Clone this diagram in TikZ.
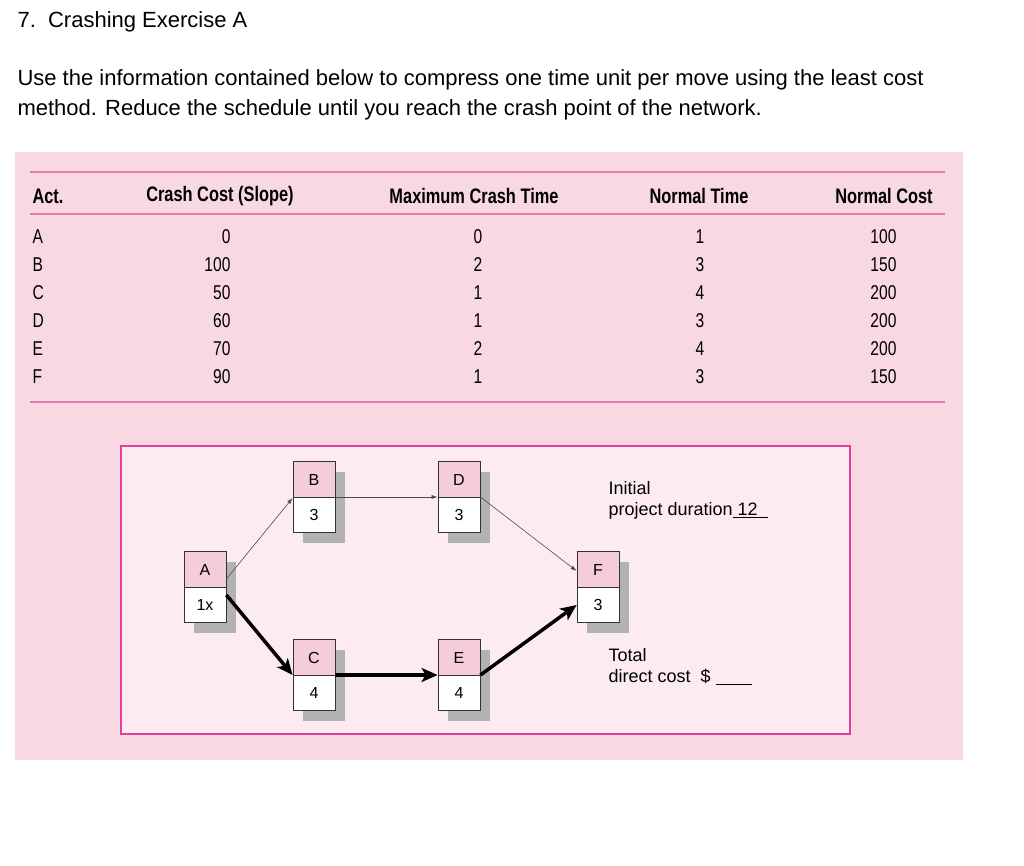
\documentclass[tikz,border=0pt]{standalone}
\usepackage{fontspec}
\setmainfont{Liberation Sans}
\newfontfamily\condfont[FakeStretch=0.78, BoldFont={Liberation Sans Bold}, BoldFeatures={FakeStretch=0.78}]{Liberation Sans}
\usetikzlibrary{shapes.multipart,calc,arrows.meta}
\definecolor{panel}{HTML}{F8D9E1}
\definecolor{inner}{HTML}{FCECF0}
\definecolor{rule}{HTML}{E47BAE}
\definecolor{frame}{HTML}{E0409A}
\definecolor{toppink}{HTML}{F5CCD9}
\tikzset{
  actbox/.style={rectangle split, rectangle split parts=2, draw=black!80, line width=0.8pt,
    rectangle split part fill={toppink,white}, minimum width=42pt, inner xsep=0pt,
    inner ysep=11.5pt, text height=12pt, text depth=0pt, font=\fontsize{16}{16}\selectfont},
  shadowbox/.style={fill=black!30},
  thin/.style={draw=black!70, line width=0.6pt, -{Latex[length=6pt,width=4pt]}},
  thick/.style={draw=black, line width=3.5pt, -{Stealth[length=16pt,width=14pt,inset=4pt]}},
  hd/.style={font=\condfont\bfseries\fontsize{21}{21}\selectfont},
  cell/.style={font=\condfont\fontsize{20}{20}\selectfont},
  txt/.style={font=\fontsize{22}{26}\selectfont, anchor=west},
  lab/.style={font=\fontsize{18}{21}\selectfont, anchor=west}
}
\begin{document}
\begin{tikzpicture}[x=1pt,y=-1pt]
\useasboundingbox (0,0) rectangle (1024,866);
\fill[white] (0,0) rectangle (1024,866);
\node[txt] (title) at (14,22) {7.\ \ Crashing Exercise A};
\node[txt] (p1) at (14,80) {Use the information contained below to compress one time unit per move using the least cost};
\node[txt] (p2) at (14,110) {method. Reduce the schedule until you reach the crash point of the network.};
\fill[panel] (15,152) rectangle (963,760);
\draw[rule, line width=1.2pt] (30,172) -- (945,172) (30,214) -- (945,214) (30,402) -- (945,402);
\node[hd, anchor=west] (h1) at (29,196) {Act.};
\node[hd] (h2) at (220,196) {Crash Cost (Slope)};
\node[hd] (h3) at (474,196) {Maximum Crash Time};
\node[hd] (h4) at (699,196) {Normal Time};
\node[hd] (h5) at (884,196) {Normal Cost};
\foreach \a/\c/\m/\t/\n [count=\i] in {A/0/0/1/100,B/100/2/3/150,C/50/1/4/200,D/60/1/3/200,E/70/2/4/200,F/90/1/3/150}{
  \pgfmathsetmacro\yy{237+28*(\i-1)}
  \node[cell, anchor=west] (a\i) at (29,\yy) {\a};
  \node[cell, anchor=east] (c\i) at (234,\yy) {\c};
  \node[cell] (m\i) at (478,\yy) {\m};
  \node[cell] (t\i) at (700,\yy) {\t};
  \node[cell, anchor=east] (n\i) at (900,\yy) {\n};
}
\draw[frame, fill=inner, line width=2pt] (121,446) rectangle (850,734);
\foreach \x/\y in {205/587,314/497,459/497,314/675,459/675,598/587}
  \fill[shadowbox] (\x-11,\y-25) rectangle (\x+31,\y+46);
\node[actbox] (A) at (205,587) {A\nodepart{two}1x};
\node[actbox] (B) at (314,497) {B\nodepart{two}3};
\node[actbox] (D) at (459,497) {D\nodepart{two}3};
\node[actbox] (C) at (314,675) {C\nodepart{two}4};
\node[actbox] (E) at (459,675) {E\nodepart{two}4};
\node[actbox] (F) at (598,587) {F\nodepart{two}3};
\draw[thin] ($(A.east)+(0,-8)$) -- ($(B.west)+(0,1)$);
\draw[thin] (B.east) -- (D.west);
\draw[thin] (D.east) -- ($(F.west)+(0,-16)$);
\draw[thick] ($(A.east)+(0,8)$) -- (C.west);
\draw[thick] (C.east) -- (E.west);
\draw[thick] (E.east) -- ($(F.west)+(0,18)$);
\node[lab] (i1) at (605,488) {Initial};
\node[lab] (i2) at (605,511) {project duration\underline{\ 12\ \ }};
\node[lab] (t1) at (605,655) {Total};
\node[lab] (t2) at (605,677) {direct cost\ \ \$\ \underline{\hspace{36pt}}};
\end{tikzpicture}
\end{document}
